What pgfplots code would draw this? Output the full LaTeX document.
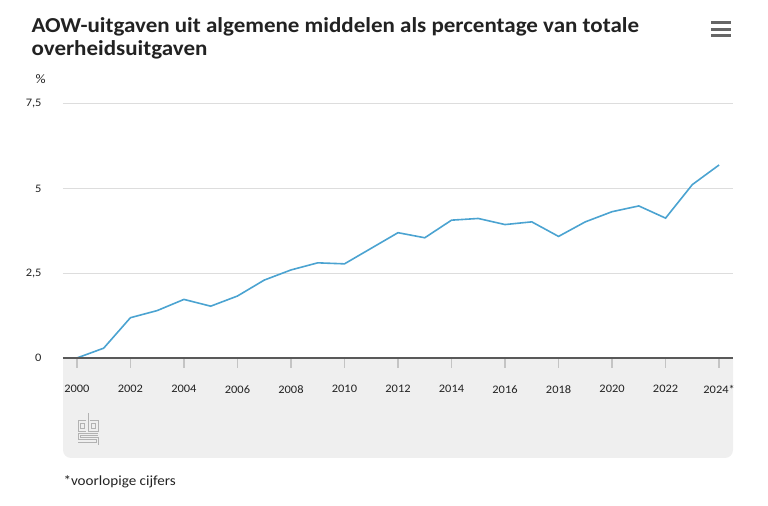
\documentclass[border=0pt]{standalone}
\usepackage{pgfplots}
\pgfplotsset{compat=1.18}
\usepackage{fontspec}
\setmainfont[FakeStretch=1.08]{Carlito}
\definecolor{cbsblue}{HTML}{4BA3D1}
\definecolor{bandgrey}{HTML}{EFEFEF}
\definecolor{gridgrey}{HTML}{DDDDDD}
\definecolor{tickgrey}{HTML}{C4C4C4}
\definecolor{txt}{HTML}{222222}
\begin{document}
\begin{tikzpicture}
  \path[use as bounding box] (0,0) rectangle (768bp,506bp);
  % decorations in pixel coordinates, y measured from the top
  \begin{scope}[yshift=506bp, x=1bp, y=-1bp]
    \fill[bandgrey, rounded corners=8bp] (63,352) -- (63,458) -- (733,458) -- (733,352) -- cycle;
    \fill[white] (63,340) rectangle (733,358);
    \node[anchor=west, text=txt, font=\bfseries\fontsize{21.3bp}{24bp}\selectfont] at (28,27) {AOW-uitgaven uit algemene middelen als percentage van totale};
    \node[anchor=west, text=txt, font=\bfseries\fontsize{21.3bp}{24bp}\selectfont] at (28,50) {overheidsuitgaven};
    \node[anchor=west, text=txt, font=\fontsize{13bp}{14bp}\selectfont] at (32,79) {\%};
    \foreach \yy in {23,29.5,36} \draw[gray!80!black, line width=3bp] (711,\yy) -- (731,\yy);
    \begin{scope}[draw=gray!60, line width=1bp]
      \draw (86,421) -- (78,421) -- (78,432) -- (86,432);
      \draw (80,424) rectangle (84,429);
      \draw (88,413) -- (88,432) -- (98,432) -- (98,421) -- (90,421);
      \draw (91,424) rectangle (95,429);
      \draw (98,434) -- (78,434) -- (78,440) -- (96,440) -- (96,443) -- (78,443);
      \draw (98,445) -- (98,438) -- (80,438) -- (80,436) -- (98,436);
    \end{scope}
    \node[anchor=west, text=txt, font=\fontsize{14bp}{16bp}\selectfont] at (60,482) {*voorlopige cijfers};
  \end{scope}
  \begin{axis}[
    at={(63bp,148bp)}, anchor=south west,
    scale only axis, width=670bp, height=254bp,
    xmin=1999.48, xmax=2024.52,
    ymin=0, ymax=7.5,
    axis line style={draw=none},
    xtick={2000,2002,...,2024},
    xticklabels={2000,2002,2004,2006,2008,2010,2012,2014,2016,2018,2020,2022,2024*},
    ytick={0,2.5,5,7.5},
    yticklabels={0,{2,5},5,{7,5}},
    ymajorgrids=true,
    grid style={gridgrey, line width=1bp},
    xtick pos=bottom, ytick pos=left,
    tick align=outside,
    major tick length=10bp,
    x tick style={draw=tickgrey, line width=1.2bp},
    y tick style={draw=none},
    tick label style={text=txt, font=\fontsize{11.5bp}{14bp}\selectfont},
    xticklabel style={yshift=-14bp},
    yticklabel style={xshift=-8bp},
    /pgf/number format/assume math mode=true,
    clip=false,
  ]
    \addplot[cbsblue, line width=1.6bp, no marks] coordinates {
      (2000,0.00) (2001,0.29) (2002,1.19) (2003,1.40) (2004,1.73)
      (2005,1.53) (2006,1.83) (2007,2.30) (2008,2.60) (2009,2.81)
      (2010,2.78) (2011,3.24) (2012,3.70) (2013,3.55) (2014,4.07)
      (2015,4.12) (2016,3.94) (2017,4.02) (2018,3.59) (2019,4.02)
      (2020,4.32) (2021,4.49) (2022,4.13) (2023,5.12) (2024,5.70)
    };
    \draw[gray!70!black, line width=2.5bp] (axis cs:1999.48,0) -- (axis cs:2024.52,0);
  \end{axis}
\end{tikzpicture}
\end{document}
